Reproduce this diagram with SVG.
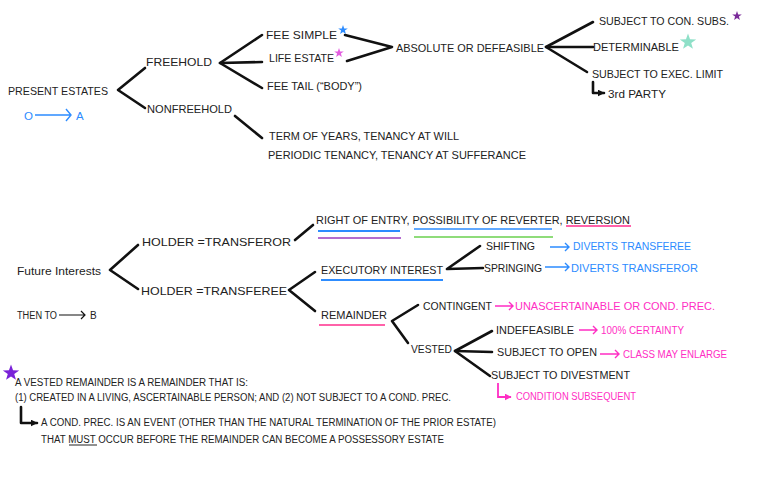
<svg xmlns="http://www.w3.org/2000/svg" width="768" height="481" viewBox="0 0 768 481">
<defs>
<style>
text{font-family:"Liberation Sans","DejaVu Sans",sans-serif;font-size:11.5px;fill:#222;}
.b{fill:#2d8cff}.p{fill:#ff2ec4}.sm{font-size:10px}
.ln{stroke:#111;stroke-width:2.6;fill:none;stroke-linecap:round;stroke-linejoin:round}
.bl{stroke:#2d8cff;stroke-width:1.4;fill:none}
.pk{stroke:#ff2ec4;stroke-width:1.4;fill:none}
</style>
<marker id="ah" viewBox="0 0 10 10" refX="9" refY="5" markerUnits="userSpaceOnUse" markerWidth="7" markerHeight="7" orient="auto"><path d="M0,0 L10,5 L0,10 z" fill="#111"/></marker>
<marker id="ahp" viewBox="0 0 10 10" refX="9" refY="5" markerUnits="userSpaceOnUse" markerWidth="7" markerHeight="7" orient="auto"><path d="M0,0 L10,5 L0,10 z" fill="#ff2ec4"/></marker>
<path id="star" d="M0,-5 L1.2,-1.6 L4.8,-1.5 L1.9,0.6 L2.9,4 L0,2 L-2.9,4 L-1.9,0.6 L-4.8,-1.5 L-1.2,-1.6 z"/>
</defs>

<g id="connectors">
<polyline class="ln" points="145,68 118,90 145,108"/>
<polyline class="ln" points="262,35 220,63 262,88"/>
<line class="ln" x1="220" y1="63" x2="262" y2="62"/>
<polyline class="ln" points="345,35 392,47 347,61"/>
<polyline class="ln" points="593,22 546,47 587,72"/>
<line class="ln" x1="546" y1="47" x2="593" y2="47"/>
<line class="ln" x1="235" y1="116" x2="262" y2="138"/>
<polyline class="ln" points="593,82 593,93 604,93" stroke-width="2" marker-end="url(#ah)"/>
<polyline class="ln" points="138,245 110,270 138,289"/>
<line class="ln" x1="295" y1="240" x2="313" y2="225"/>
<polyline class="ln" points="315,272 289,290 315,311"/>
<polyline class="ln" points="480,246 447,269 483,268"/>
<polyline class="ln" points="418,305 392,321 408,343"/>
<polyline class="ln" points="492,331 455,351 490,376"/>
<line class="ln" x1="455" y1="351" x2="492" y2="352"/>
<polyline class="ln" points="21,407 21,423 37,423" stroke-width="2.2" marker-end="url(#ah)"/>
<polyline points="498,383 498,397 511,397" stroke="#ff2ec4" stroke-width="1.8" fill="none" marker-end="url(#ahp)"/>
<!-- thin arrows -->
<path class="bl" d="M35,115 H70 M66,109 L71,115 L66,121"/>
<path class="bl" d="M550,247 H569 M565,243 L569,247 L565,251"/>
<path class="bl" d="M545,267 H569 M565,263 L569,267 L565,271"/>
<path d="M59,315 H85 M81,311 L85,315 L81,319" stroke="#111" stroke-width="1.2" fill="none"/>
<path class="pk" d="M495,306 H513 M509,302 L513,306 L509,310"/>
<path class="pk" d="M579,330 H597 M593,326 L597,330 L593,334"/>
<path class="pk" d="M600,354 H619 M615,350 L619,354 L615,358"/>
<!-- underlines -->
<line x1="318" y1="231" x2="400" y2="231" stroke="#2d8cff" stroke-width="2"/>
<line x1="318" y1="238" x2="401" y2="238" stroke="#9b3dbf" stroke-width="1.3"/>
<line x1="414" y1="229" x2="552" y2="229" stroke="#2d8cff" stroke-width="1.3"/>
<line x1="414" y1="237" x2="553" y2="237" stroke="#8fdc7a" stroke-width="2.2"/>
<line x1="566" y1="226" x2="631" y2="226" stroke="#ff2e8c" stroke-width="1.5"/>
<line x1="321" y1="280" x2="443" y2="280" stroke="#2d8cff" stroke-width="2"/>
<line x1="319" y1="325" x2="385" y2="325" stroke="#ff2e8c" stroke-width="1.3"/>
<line x1="69" y1="445" x2="97" y2="445" stroke="#222" stroke-width="1"/>
</g>

<g id="present-estates"><text x="8" y="95" textLength="100" lengthAdjust="spacingAndGlyphs">PRESENT ESTATES</text>
<text class="b" x="24" y="120">O</text><text class="b" x="76" y="120">A</text></g>
<g id="freehold"><text x="146" y="66" textLength="66" lengthAdjust="spacingAndGlyphs">FREEHOLD</text></g>
<g id="nonfreehold"><text x="147" y="113" textLength="85" lengthAdjust="spacingAndGlyphs">NONFREEHOLD</text></g>
<g id="fee-simple"><text x="266" y="39" textLength="71" lengthAdjust="spacingAndGlyphs">FEE SIMPLE</text><use href="#star" x="343" y="30" fill="#2d8cff"/></g>
<g id="life-estate"><text x="269" y="62" textLength="65" lengthAdjust="spacingAndGlyphs">LIFE ESTATE</text><use href="#star" x="339" y="53" fill="#e35ee0"/></g>
<g id="fee-tail"><text x="267" y="90" textLength="95" lengthAdjust="spacingAndGlyphs">FEE TAIL (“BODY”)</text></g>
<g id="absolute"><text x="396" y="52" textLength="148" lengthAdjust="spacingAndGlyphs">ABSOLUTE OR DEFEASIBLE</text></g>
<g id="con-subs"><text x="599" y="25" textLength="130" lengthAdjust="spacingAndGlyphs">SUBJECT TO CON. SUBS.</text><use href="#star" x="737" y="16" fill="#7a2a9a"/></g>
<g id="determinable"><text x="593" y="51" textLength="86" lengthAdjust="spacingAndGlyphs">DETERMINABLE</text><use href="#star" transform="translate(688,42) scale(1.7)" fill="#8fe0c8"/></g>
<g id="exec-limit"><text x="592" y="78" textLength="131" lengthAdjust="spacingAndGlyphs">SUBJECT TO EXEC. LIMIT</text><text x="608" y="98" textLength="58" lengthAdjust="spacingAndGlyphs">3rd PARTY</text></g>
<g id="term"><text x="269" y="140" textLength="190" lengthAdjust="spacingAndGlyphs">TERM OF YEARS, TENANCY AT WILL</text>
<text x="268" y="159" textLength="258" lengthAdjust="spacingAndGlyphs">PERIODIC TENANCY, TENANCY AT  SUFFERANCE</text></g>

<g id="future"><text x="17" y="275" textLength="84" lengthAdjust="spacingAndGlyphs">Future Interests</text>
<text class="sm" x="17" y="319" textLength="40" lengthAdjust="spacingAndGlyphs">THEN TO</text><text class="sm" x="90" y="319">B</text></g>
<g id="transferor"><text x="142" y="246" textLength="149" lengthAdjust="spacingAndGlyphs">HOLDER =TRANSFEROR</text></g>
<g id="transferee"><text x="141" y="295" textLength="146" lengthAdjust="spacingAndGlyphs">HOLDER =TRANSFEREE</text></g>
<g id="reversion"><text x="316" y="224" textLength="314" lengthAdjust="spacingAndGlyphs">RIGHT OF ENTRY, POSSIBILITY OF REVERTER, REVERSION</text></g>
<g id="executory"><text x="321" y="274" textLength="122" lengthAdjust="spacingAndGlyphs">EXECUTORY INTEREST</text></g>
<g id="shifting"><text x="486" y="250" textLength="49" lengthAdjust="spacingAndGlyphs">SHIFTING</text><text class="b" x="573" y="250" textLength="118" lengthAdjust="spacingAndGlyphs">DIVERTS TRANSFEREE</text></g>
<g id="springing"><text x="484" y="272" textLength="58" lengthAdjust="spacingAndGlyphs">SPRINGING</text><text class="b" x="571" y="272" textLength="127" lengthAdjust="spacingAndGlyphs">DIVERTS TRANSFEROR</text></g>
<g id="remainder"><text x="321" y="319" textLength="66" lengthAdjust="spacingAndGlyphs">REMAINDER</text></g>
<g id="contingent"><text x="423" y="310" textLength="69" lengthAdjust="spacingAndGlyphs">CONTINGENT</text><text class="p" x="515" y="310" textLength="200" lengthAdjust="spacingAndGlyphs">UNASCERTAINABLE OR COND. PREC.</text></g>
<g id="vested"><text x="411" y="353" textLength="41" lengthAdjust="spacingAndGlyphs">VESTED</text></g>
<g id="indefeasible"><text x="496" y="334" textLength="78" lengthAdjust="spacingAndGlyphs">INDEFEASIBLE</text><text class="p sm" x="601" y="334" textLength="83" lengthAdjust="spacingAndGlyphs">100% CERTAINTY</text></g>
<g id="open"><text x="497" y="356" textLength="100" lengthAdjust="spacingAndGlyphs">SUBJECT TO OPEN</text><text class="p sm" x="623" y="358" textLength="104" lengthAdjust="spacingAndGlyphs">CLASS MAY ENLARGE</text></g>
<g id="divestment"><text x="491" y="379" textLength="139" lengthAdjust="spacingAndGlyphs">SUBJECT TO DIVESTMENT</text><text class="p sm" x="516" y="400" textLength="120" lengthAdjust="spacingAndGlyphs">CONDITION SUBSEQUENT</text></g>

<g id="note">
<use href="#star" transform="translate(11,373) scale(1.7)" fill="#7a22d8"/>
<text class="sm" x="15" y="386" textLength="233" lengthAdjust="spacingAndGlyphs">A VESTED REMAINDER IS A REMAINDER THAT IS:</text>
<text class="sm" x="15" y="401" textLength="436" lengthAdjust="spacingAndGlyphs">(1) CREATED IN A LIVING, ASCERTAINABLE PERSON; AND (2) NOT SUBJECT TO A COND. PREC.</text>
<text class="sm" x="41" y="426" textLength="455" lengthAdjust="spacingAndGlyphs">A COND. PREC. IS AN EVENT (OTHER THAN THE NATURAL TERMINATION OF THE PRIOR ESTATE)</text>
<text class="sm" x="41" y="443" textLength="403" lengthAdjust="spacingAndGlyphs">THAT MUST OCCUR BEFORE THE REMAINDER CAN BECOME A POSSESSORY ESTATE</text>
</g>
</svg>
